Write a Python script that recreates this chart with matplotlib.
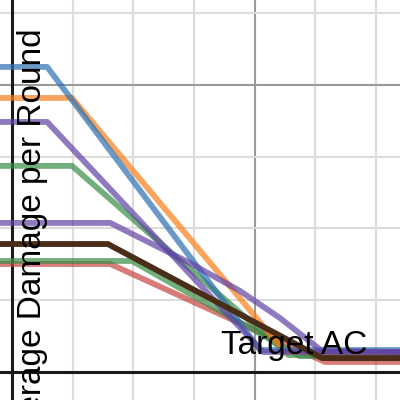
import matplotlib
matplotlib.use("Agg")
import matplotlib.pyplot as plt

plt.rcParams['font.family'] = ['Liberation Sans', 'DejaVu Sans']

# target AC vs average damage (polyline corners)
x_min, x_max = -0.99, 31.99
y_min, y_max = -1.95, 25.9

red_ac = [x_min, 8.1, 25.8, x_max]
red_dmg = [7.52, 7.52, 0.70, 0.70]

green_low_ac = [x_min, 9.9, 23.7, x_max]
green_low_dmg = [7.73, 7.73, 1.11, 1.11]

green_high_ac = [x_min, 4.95, 22.8, x_max]
green_high_dmg = [14.35, 14.35, 1.18, 1.18]

orange_ac = [x_min, 4.95, 22.5, x_max]
orange_dmg = [19.08, 19.08, 1.39, 1.39]

blue_ac = [x_min, 2.9, 20.45, x_max]
blue_dmg = [21.24, 21.24, 1.53, 1.53]

purple_high_ac = [x_min, 2.9, 20.7, x_max]
purple_high_dmg = [17.41, 17.41, 1.39, 1.39]

purple_low_ac = [x_min, 8.1, 14.67, 18.8, 22.09, 25.56, x_max]
purple_low_dmg = [10.38, 10.38, 7.59, 5.64, 3.76, 1.46, 1.39]

brown_ac = [x_min, 7.9, 25.56, x_max]
brown_dmg = [8.91, 8.91, 0.97, 0.97]

fig = plt.figure(figsize=(4, 4), dpi=100)
ax = fig.add_axes([0, 0, 1, 1])
ax.set_xlim(x_min, x_max)
ax.set_ylim(y_min, y_max)
ax.axis('off')

# grid, desmos style
for v in range(0, 35, 5):
    c = '#9a9a9a' if v == 20 else '#dcdcdc'
    ax.axvline(v, color=c, lw=1.5, zorder=0)
for v in range(0, 30, 5):
    c = '#9a9a9a' if v == 20 else '#dcdcdc'
    ax.axhline(v, color=c, lw=1.5, zorder=0)
ax.axvline(0, color='#1a1a1a', lw=2.2, zorder=1)
ax.axhline(0, color='#1a1a1a', lw=2.2, zorder=1)

lw = 4.2
ax.plot(red_ac, red_dmg, color='#c74440', alpha=0.7, lw=lw, zorder=2)
ax.plot(green_low_ac, green_low_dmg, color='#388c46', alpha=0.7, lw=lw, zorder=2)
ax.plot(green_high_ac, green_high_dmg, color='#388c46', alpha=0.7, lw=lw, zorder=2)
ax.plot(orange_ac, orange_dmg, color='#fa7e19', alpha=0.7, lw=lw, zorder=2)
ax.plot(blue_ac, blue_dmg, color='#2d70b3', alpha=0.7, lw=lw, zorder=2)
ax.plot(purple_high_ac, purple_high_dmg, color='#6042a6', alpha=0.7, lw=lw, zorder=2)
ax.plot(purple_low_ac, purple_low_dmg, color='#6042a6', alpha=0.7, lw=lw, zorder=2)
ax.plot(brown_ac, brown_dmg, color='#4a2d17', lw=lw, zorder=2)

ax.text(0.736, 0.115, 'Target AC', transform=ax.transAxes, fontsize=24,
        ha='center', va='baseline', zorder=5)
# the label runs past the bottom edge, as in the reference crop
ax.text(0.0825, 0.40, 'Average Damage per Round', transform=ax.transAxes,
        fontsize=24, rotation=90, ha='center', va='center', zorder=5)

fig.savefig('out.png', dpi=100)
